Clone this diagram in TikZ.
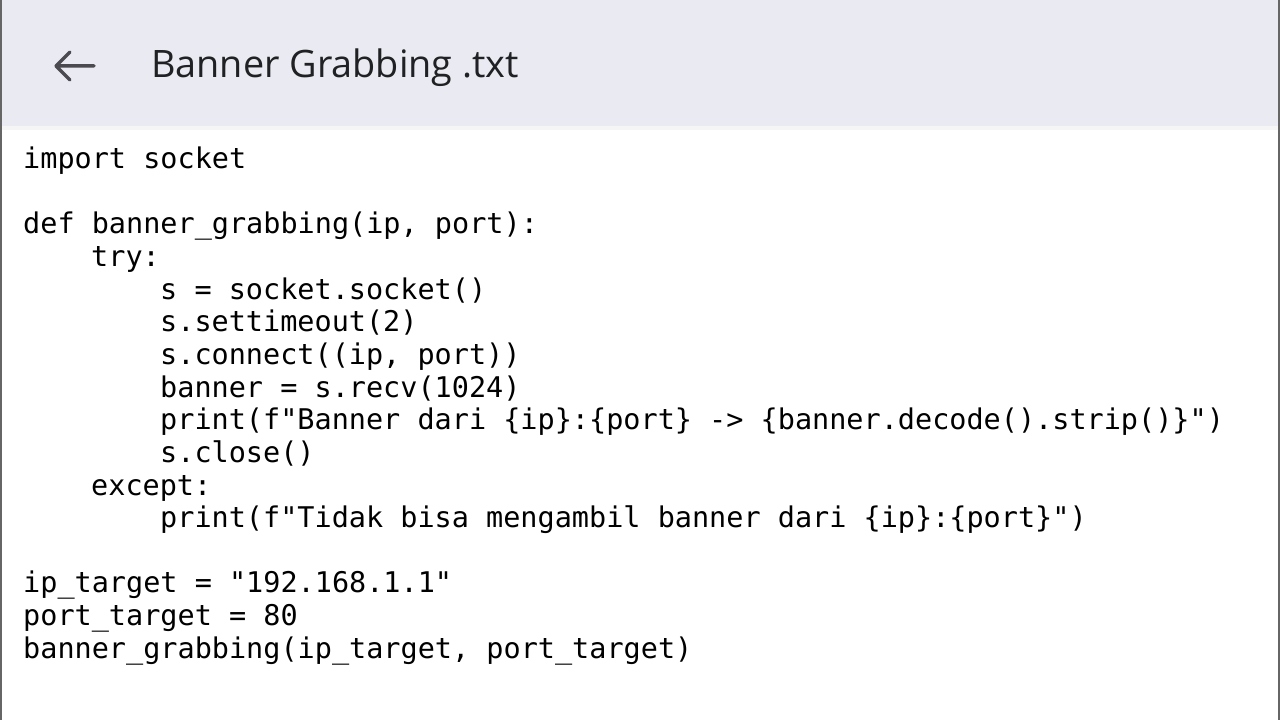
\documentclass[tikz,border=0pt]{standalone}
\usepackage{fontspec}
\setmonofont{DejaVu Sans Mono}
\newfontfamily\titlefont{Open Sans}
\definecolor{hdr}{HTML}{EAEAF2}
\definecolor{ink}{HTML}{202124}
\definecolor{arr}{HTML}{4A4A50}
\begin{document}
\begin{tikzpicture}[x=1pt,y=1pt,
  code/.style={anchor=base west,inner sep=0pt,text=black,font=\ttfamily\fontsize{28.5}{28.5}\selectfont}]
\useasboundingbox (0,0) rectangle (1280,720);
\fill[white] (0,0) rectangle (1280,720);
\fill[black!4] (0,590) rectangle (1280,594);
\fill[hdr] (0,594) rectangle (1280,720);
\draw[black!60,line width=2pt] (1,0) -- (1,720);
\draw[black!60,line width=2pt] (1279,0) -- (1279,720);
\coordinate (ah) at (56,654);
\coordinate (at) at (94,654);
\draw[arr,line width=3.5pt,line cap=round,line join=round] (at) -- (ah) (70,668) -- (ah) -- (70,640);
\node[anchor=base west,inner sep=0pt,text=ink,font=\titlefont\fontsize{37.8}{37.8}\selectfont] (title) at (151,642) {Banner Grabbing .txt};
\def\L{23} \def\M{91} \def\N{160}
\node[code] (l1) at (\L,551) {import socket};
\node[code] (l2) at (\L,486) {def banner\_grabbing(ip, port):};
\node[code] (l3) at (\M,453) {try:};
\node[code] (l4) at (\N,420) {s = socket.socket()};
\node[code] (l5) at (\N,388) {s.settimeout(2)};
\node[code] (l6) at (\N,355) {s.connect((ip, port))};
\node[code] (l7) at (\N,322) {banner = s.recv(1024)};
\node[code] (l8) at (\N,290) {print(f"Banner dari \{ip\}:\{port\} -> \{banner.decode().strip()\}")};
\node[code] (l9) at (\N,257) {s.close()};
\node[code] (l10) at (\M,224) {except:};
\node[code] (l11) at (\N,192) {print(f"Tidak bisa mengambil banner dari \{ip\}:\{port\}")};
\node[code] (l12) at (\L,127) {ip\_target = "192.168.1.1"};
\node[code] (l13) at (\L,94) {port\_target = 80};
\node[code] (l14) at (\L,61) {banner\_grabbing(ip\_target, port\_target)};
\end{tikzpicture}
\end{document}
